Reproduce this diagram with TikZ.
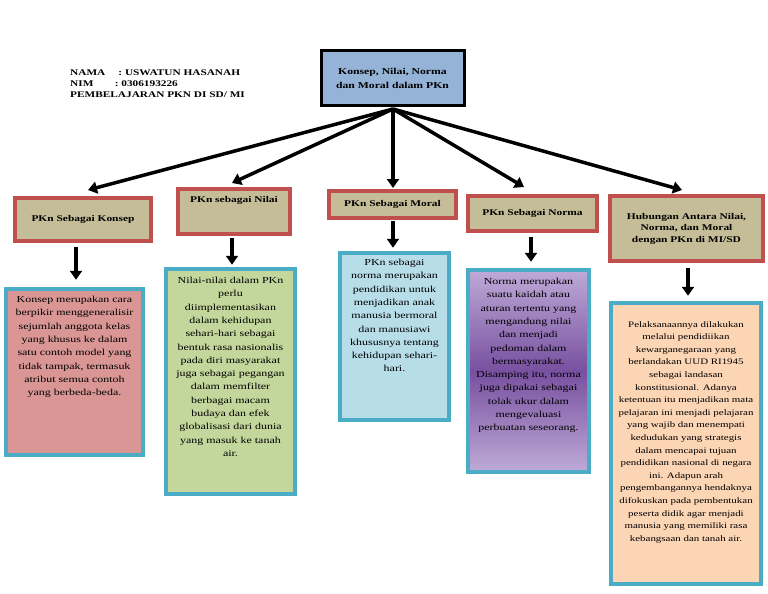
\documentclass[tikz,border=0pt]{standalone}
\usepackage{fontspec}
\setmainfont{Liberation Serif}[FakeStretch=1.3]
\usetikzlibrary{arrows.meta}
\begin{document}
\begin{tikzpicture}[x=1pt,y=-1pt,
 top/.style={draw=black,line width=3pt,fill=topblue,inner sep=0pt},
 head/.style={draw=hred,line width=4pt,fill=htan,inner sep=0pt,font=\bfseries\fontsize{8.8}{11.5}\selectfont,align=center},
 cont/.style={draw=cblue,line width=4.5pt,inner sep=0pt},
 txt/.style={anchor=north,align=center,inner sep=0pt,font=\fontsize{9.2}{13.3}\selectfont},
 arr/.style={line width=3.5pt,-{Triangle[length=9pt,width=12pt]}},
]
\definecolor{topblue}{HTML}{95B3D7}
\definecolor{hred}{HTML}{C0504D}
\definecolor{htan}{HTML}{C4BD97}
\definecolor{cblue}{HTML}{4BACC6}
\useasboundingbox (0,0) rectangle (768,594);
\fill[white] (0,0) rectangle (768,594);
\node[anchor=north west,align=left,inner sep=0pt,font=\bfseries\fontsize{8.7}{11}\selectfont] (id) at (70,70)
 {NAMA\hspace{1.5em}: USWATUN HASANAH\\NIM\hspace{2.45em}: 0306193226\\PEMBELAJARAN PKN DI SD/ MI};
\node[top,minimum width=143,minimum height=54,align=center,font=\bfseries\fontsize{9}{14}\selectfont] (t) at (392.5,78) {Konsep, Nilai, Norma\\dan Moral dalam PKn};
\node[head,minimum width=136,minimum height=43] (ha) at (83,219.5) {PKn Sebagai Konsep};
\node[head,minimum width=112,minimum height=45] (hb) at (234,211.5) {};
\node[anchor=north,font=\bfseries\fontsize{8.8}{11}\selectfont] (hbt) at (234,193) {PKn sebagai Nilai};
\node[head,minimum width=127,minimum height=27] (hc) at (392.5,204.5) {PKn Sebagai Moral};
\node[head,minimum width=129,minimum height=35] (hd) at (532.5,213.5) {PKn Sebagai Norma};
\node[head,minimum width=153,minimum height=65] (he) at (686.5,228.5) {Hubungan Antara Nilai,\\Norma, dan Moral\\dengan PKn di MI/SD};
\node[cont,fill={rgb,255:red,217;green,150;blue,148},minimum width=137,minimum height=166] (ca) at (74.5,372) {};
\node[cont,fill={rgb,255:red,195;green,214;blue,155},minimum width=129,minimum height=225] (cb) at (230.5,381.5) {};
\node[cont,fill={rgb,255:red,183;green,221;blue,232},minimum width=109,minimum height=167] (cc) at (394.5,336.5) {};
\node[cont,top color={rgb,255:red,190;green,170;blue,215},bottom color={rgb,255:red,190;green,170;blue,215},middle color={rgb,255:red,120;green,80;blue,160},minimum width=121,minimum height=202] (cd) at (528.5,371) {};
\node[cont,fill={rgb,255:red,252;green,213;blue,181},minimum width=150,minimum height=281] (ce) at (686,443.5) {};
\node[txt] at (74.5,296) {Konsep merupakan cara\\berpikir menggeneralisir\\sejumlah anggota kelas\\yang khusus ke dalam\\satu contoh model yang\\tidak tampak, termasuk\\atribut semua contoh\\yang berbeda-beda.};
\node[txt] at (230.5,277) {Nilai-nilai dalam PKn\\perlu\\diimplementasikan\\dalam kehidupan\\sehari-hari sebagai\\bentuk rasa nasionalis\\pada diri masyarakat\\juga sebagai pegangan\\dalam memfilter\\berbagai macam\\budaya dan efek\\globalisasi dari dunia\\yang masuk ke tanah\\air.};
\node[txt] at (394.5,259) {PKn sebagai\\norma merupakan\\pendidikan untuk\\menjadikan anak\\manusia bermoral\\dan manusiawi\\khususnya tentang\\kehidupan sehari-\\hari.};
\node[txt] at (528.5,278) {Norma merupakan\\suatu kaidah atau\\aturan tertentu yang\\mengandung nilai\\dan menjadi\\pedoman dalam\\bermasyarakat.\\Disamping itu, norma\\juga dipakai sebagai\\tolak ukur dalam\\mengevaluasi\\perbuatan seseorang.};
\node[txt,font=\fontsize{8.4}{12.6}\selectfont] at (686,321) {Pelaksanaannya dilakukan\\melalui pendidiikan\\kewarganegaraan yang\\berlandakan UUD RI1945\\sebagai landasan\\konstitusional. Adanya\\ketentuan itu menjadikan mata\\pelajaran ini menjadi pelajaran\\yang wajib dan menempati\\kedudukan yang strategis\\dalam mencapai tujuan\\pendidikan nasional di negara\\ini. Adapun arah\\pengembangannya hendaknya\\difokuskan pada pembentukan\\peserta didik agar menjadi\\manusia yang memiliki rasa\\kebangsaan dan tanah air.};
\coordinate (o) at (393,109);
\coordinate (ea) at (88,190);
\coordinate (eb) at (232,183);
\coordinate (ec) at (393,188);
\coordinate (ed) at (524,187);
\coordinate (ee) at (682,190);
\draw[arr] (o) -- (ea);
\draw[arr] (o) -- (eb);
\draw[arr] (o) -- (ec);
\draw[arr] (o) -- (ed);
\draw[arr] (o) -- (ee);
\draw[arr,shorten <=4pt,shorten >=7pt] (ha.south -| 76,0) -- (ca.north -| 76,0);
\draw[arr,shorten <=2pt,shorten >=2pt] (hb.south -| 232,0) -- (cb.north -| 232,0);
\draw[arr,shorten <=1pt,shorten >=3pt] (hc.south -| 393,0) -- (cc.north -| 393,0);
\draw[arr,shorten <=4pt,shorten >=6pt] (hd.south -| 531,0) -- (cd.north -| 531,0);
\draw[arr,shorten <=5pt,shorten >=5pt] (he.south -| 688,0) -- (ce.north -| 688,0);
\end{tikzpicture}
\end{document}
